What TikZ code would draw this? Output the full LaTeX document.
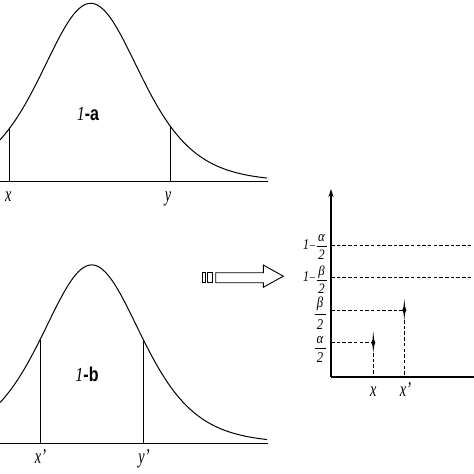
\documentclass[tikz,border=0pt]{standalone}
\usepackage{fontspec}
\setmainfont{Liberation Serif}
\newfontfamily\sansfont{Liberation Sans}
\usepackage{graphicx}
\usetikzlibrary{arrows.meta}
\begin{document}
\begin{tikzpicture}[x=1pt,y=-1pt,
  declare function={bell(\d)=178.4/(cosh(\d/67))^2;},
  curve/.style={line width=1pt},
  baseline/.style={line width=1.3pt},
  tickline/.style={line width=0.9pt},
  dashline/.style={line width=0.9pt,dash pattern=on 3.5pt off 2.2pt},
  axisline/.style={line width=1.6pt},
  hollow/.style={line width=0.9pt},
  fracbar/.style={line width=0.8pt},
  lbl/.style={inner sep=0pt,anchor=base,font=\fontsize{21}{21}\selectfont\itshape},
  title/.style={inner sep=0pt,anchor=base,font=\fontsize{20}{20}\selectfont},
  fpart/.style={inner sep=0pt,font=\fontsize{15}{15}\selectfont\itshape},
  errbar/.pic={\fill (0,-11) -- (0.8,-3) -- (2,0) -- (0.8,3) -- (0,10) -- (-0.8,3) -- (-2,0) -- (-0.8,-3) -- cycle;}
]
\useasboundingbox (0,0) rectangle (474,474);

% ---- top bell (1-a)
\draw[curve] plot[domain=0:267,samples=200,smooth] (\x,{181.7-bell(\x-90.7)});
\draw[baseline] (0,181.7) coordinate (ta) -- (268,181.7) coordinate (tb);
\coordinate (xb) at (9,181.7);
\coordinate (xt) at (9,{181.7-bell(9-90.7)});
\coordinate (yb) at (170.7,181.7);
\coordinate (yt) at (170.7,{181.7-bell(170.7-90.7)});
\draw[tickline] (xb) -- (xt);
\draw[tickline] (yb) -- (yt);
\node[lbl] (lx) at (8.3,201.5) {\scalebox{0.68}[1]{x}};
\node[lbl] (ly) at (168,201.5) {\scalebox{0.68}[1]{y}};
\node[title] (la) at (88,120) {\scalebox{0.8}[1]{\textit{1}{\sansfont\bfseries -a}}};

% ---- bottom bell (1-b)
\draw[curve] plot[domain=0:267,samples=200,smooth] (\x,{443.3-bell(\x-91.7)});
\draw[baseline] (0,443.3) coordinate (ba) -- (268,443.3) coordinate (bb);
\coordinate (xpb) at (40,443.3);
\coordinate (xpt) at (40,{443.3-bell(40-91.7)});
\coordinate (ypb) at (143.3,443.3);
\coordinate (ypt) at (143.3,{443.3-bell(143.3-91.7)});
\draw[tickline] (xpb) -- (xpt);
\draw[tickline] (ypb) -- (ypt);
\node[lbl] (lxp) at (40.5,463.3) {\scalebox{0.68}[1]{x'}};
\node[lbl] (lyp) at (144,463.3) {\scalebox{0.68}[1]{y'}};
\node[title] (lb) at (87,381.5) {\scalebox{0.8}[1]{\textit{1}{\sansfont\bfseries -b}}};

% ---- hollow arrow
\draw[hollow] (202.3,272.7) rectangle (205,282.7);
\draw[hollow] (207,272.7) rectangle (212.3,282.7);
\draw[hollow] (215.7,272.7) -- (263.3,272.7) -- (263.3,265) -- (283.3,276.2)
  -- (263.3,287.3) -- (263.3,282.7) -- (215.7,282.7) -- cycle;

% ---- right plot
\coordinate (o) at (331,376.7);
\coordinate (ytop) at (331,189);
\coordinate (xend) at (474,376.7);
\draw[axisline] (xend) -- (o);
\draw[axisline,-{Stealth[length=8pt,width=5pt]}] (o) -- (ytop);

\coordinate (pa) at (373.3,342.7);
\coordinate (pb) at (404.3,310);
\draw[dashline] (331,245.7) -- (474,245.7);
\draw[dashline] (331,277.7) -- (474,277.7);
\draw[dashline] (331,310) -- (pb);
\draw[dashline] (331,342.7) -- (pa);
\draw[dashline] (373.3,353) -- (373.3,376.7);
\draw[dashline] (404.3,320) -- (404.3,376.7);
\pic at (pa) {errbar};
\pic at (pb) {errbar};

\node[lbl] (rx) at (373.3,396.7) {\scalebox{0.68}[1]{x}};
\node[lbl] (rxp) at (405.5,396.7) {\scalebox{0.68}[1]{x'}};

% fraction labels
% 1 - alpha/2
\node[fpart,anchor=base east] (f1o) at (316,249.5) {\scalebox{0.8}[1]{1\scalebox{0.75}[1]{$-$}}};
\node[fpart] (f1n) at (321.5,238) {\scalebox{0.85}[1]{α}};
\draw[fracbar] (316.5,246) -- (326.5,246);
\node[fpart] (f1d) at (321.5,254.5) {\scalebox{0.85}[0.95]{2}};
% 1 - beta/2
\node[fpart,anchor=base east] (f2o) at (316,281.5) {\scalebox{0.8}[1]{1\scalebox{0.75}[1]{$-$}}};
\node[fpart] (f2n) at (321.5,272) {\scalebox{0.85}[0.9]{β}};
\draw[fracbar] (316.5,280) -- (326.5,280);
\node[fpart] (f2d) at (321.5,289) {\scalebox{0.85}[0.95]{2}};
% beta/2
\node[fpart] (f3n) at (320,304) {\scalebox{0.85}[1]{β}};
\draw[fracbar] (314.5,314) -- (325.5,314);
\node[fpart] (f3d) at (320,324.5) {\scalebox{0.85}[1]{2}};
% alpha/2
\node[fpart] (f4n) at (320,340.5) {\scalebox{0.85}[1]{α}};
\draw[fracbar] (314.5,348) -- (325.5,348);
\node[fpart] (f4d) at (320,357.5) {\scalebox{0.85}[1]{2}};
\end{tikzpicture}
\end{document}
